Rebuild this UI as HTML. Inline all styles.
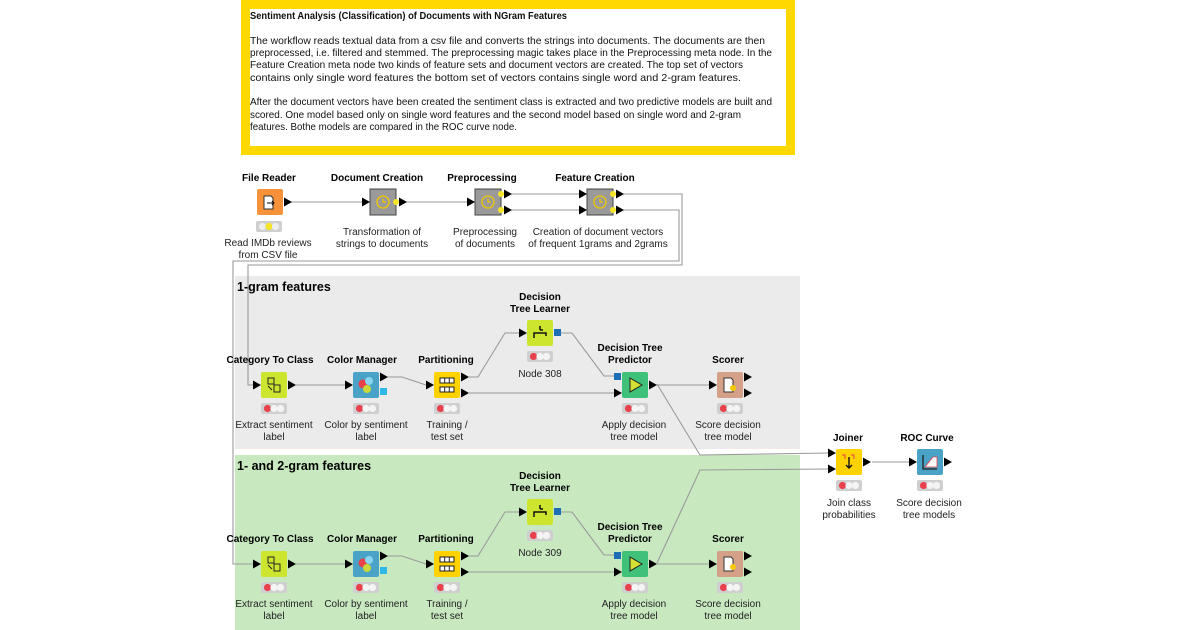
<!DOCTYPE html>
<html><head><meta charset="utf-8"><style>
html,body{margin:0;padding:0;background:#fff;width:1200px;height:630px;overflow:hidden}
svg{display:block;font-family:"Liberation Sans",Arial,sans-serif}
.b{font-weight:bold;font-size:10px;text-anchor:middle}
.d{font-size:10px;text-anchor:middle;fill:#222}
.ln{fill:none;stroke:#9a9a9a;stroke-width:1.1}
</style></head><body>
<svg width="1200" height="630" viewBox="0 0 1200 630">
<defs>
<g id="st"><rect x="0" y="0" width="26" height="11" rx="2" fill="#cfcfcf"/><circle cx="6.5" cy="5.5" r="3.6" fill="#e8414c"/><circle cx="13" cy="5.5" r="3.6" fill="#f4f4f4"/><circle cx="19.5" cy="5.5" r="3.6" fill="#f4f4f4"/></g>
<polygon id="ar" points="0,-4.5 8,0 0,4.5"/>
<g id="meta"><rect x="0" y="0" width="26" height="26" fill="#9a9a9a" stroke="#444" stroke-width="1"/><circle cx="13" cy="13" r="6" fill="none" stroke="#f0c800" stroke-width="1.3"/><path d="M13 9.5v3.5h3" stroke="#f0c800" fill="none" stroke-width="1.2"/></g>
</defs>
<!-- annotation -->
<rect x="245.5" y="4.5" width="545" height="146" fill="#fff" stroke="#ffd800" stroke-width="9"/>
<g font-size="10.4px" fill="#111" lengthAdjust="spacingAndGlyphs">
<text x="250" y="19" font-weight="bold" textLength="317" lengthAdjust="spacingAndGlyphs">Sentiment Analysis (Classification) of Documents with NGram Features</text>
<text x="250" y="44" textLength="515" lengthAdjust="spacingAndGlyphs">The workflow reads textual data from a csv file and converts the strings into documents. The documents are then</text>
<text x="250" y="56" textLength="522" lengthAdjust="spacingAndGlyphs">preprocessed, i.e. filtered and stemmed. The preprocessing magic takes place in the Preprocessing meta node. In the</text>
<text x="250" y="68" textLength="493" lengthAdjust="spacingAndGlyphs">Feature Creation meta node two kinds of feature sets and document vectors are created. The top set of vectors</text>
<text x="250" y="81" textLength="491" lengthAdjust="spacingAndGlyphs">contains only single word features the bottom set of vectors contains single word and 2-gram features.</text>
<text x="250" y="105" textLength="522" lengthAdjust="spacingAndGlyphs">After the document vectors have been created the sentiment class is extracted and two predictive models are built and</text>
<text x="250" y="118" textLength="491" lengthAdjust="spacingAndGlyphs">scored. One model based only on single word features and the second model based on single word and 2-gram</text>
<text x="250" y="130" textLength="267" lengthAdjust="spacingAndGlyphs">features. Bothe models are compared in the ROC curve node.</text>
</g>
<!-- areas -->
<rect x="235" y="276" width="565" height="173" fill="#ebebeb"/>
<rect x="235" y="455" width="565" height="175" fill="#c8e9c0"/>
<text x="237" y="291" font-size="12.5px" font-weight="bold">1-gram features</text>
<text x="237" y="470" font-size="12.5px" font-weight="bold">1- and 2-gram features</text>

<!-- connections -->
<polyline class="ln" points="285,202 362,202"/>
<polyline class="ln" points="404,202 467,202"/>
<polyline class="ln" points="509,194 579,194"/>
<polyline class="ln" points="509,210 579,210"/>
<polyline class="ln" points="620,194 682,194 682,265 248,265 248,385 253,385"/>
<polyline class="ln" points="620,210 679,210 679,261 233,261 233,564 253,564"/>
<g id="rowc">
<polyline class="ln" points="296,385 345,385"/>
<polyline class="ln" points="388,377 402,377 426,385"/>
<polyline class="ln" points="469,377 478,377 505,333 519,333"/>
<polyline class="ln" points="469,393 614,393"/>
<polyline class="ln" points="560,333 572,333 604,376 614,376"/>
<polyline class="ln" points="657,385 709,385"/>
</g>
<use href="#rowc" transform="translate(0,179)"/>
<polyline class="ln" points="657,384 700,455 828,453"/>
<polyline class="ln" points="657,563 700,470 828,469"/>
<polyline class="ln" points="872,462 909,462"/>

<!-- File Reader -->
<text class="b" x="269" y="181">File Reader</text>
<rect x="257" y="189" width="26" height="26" rx="2" fill="#f7923a"/>
<path d="M264 196h7l2 2v11h-9z" fill="#fff" stroke="#333" stroke-width="1"/><path d="M267 203h7m-2-2 2 2-2 2" stroke="#000" fill="none"/>
<use href="#ar" x="284" y="202"/>
<rect x="256" y="221" width="26" height="11" rx="2" fill="#cfcfcf"/><circle cx="262.5" cy="226.5" r="3.6" fill="#eee"/><circle cx="269" cy="226.5" r="3.6" fill="#f5e52a"/><circle cx="275.5" cy="226.5" r="3.6" fill="#eee"/>
<text class="d" x="268" y="246">Read IMDb reviews</text><text class="d" x="268" y="258">from CSV file</text>

<!-- meta nodes -->
<use href="#meta" x="370" y="189"/>
<use href="#ar" x="362" y="202"/><circle cx="396" cy="202" r="3" fill="#f5e52a"/><use href="#ar" x="399" y="202"/>
<text class="b" x="377" y="181">Document Creation</text>
<text class="d" x="382" y="235">Transformation of</text><text class="d" x="382" y="247">strings to documents</text>

<use href="#meta" x="475" y="189"/>
<use href="#ar" x="467" y="202"/>
<circle cx="501" cy="194" r="3" fill="#f5e52a"/><use href="#ar" x="504" y="194"/>
<circle cx="501" cy="210" r="3" fill="#f5e52a"/><use href="#ar" x="504" y="210"/>
<text class="b" x="482" y="181">Preprocessing</text>
<text class="d" x="485" y="235">Preprocessing</text><text class="d" x="485" y="247">of documents</text>

<use href="#meta" x="587" y="189"/>
<use href="#ar" x="579" y="194"/><use href="#ar" x="579" y="210"/>
<circle cx="613" cy="194" r="3" fill="#f5e52a"/><use href="#ar" x="616" y="194"/>
<circle cx="613" cy="210" r="3" fill="#f5e52a"/><use href="#ar" x="616" y="210"/>
<text class="b" x="595" y="181">Feature Creation</text>
<text class="d" x="598" y="235">Creation of document vectors</text><text class="d" x="598" y="247">of frequent 1grams and 2grams</text>

<!-- row nodes -->
<g id="row">
<text class="b" x="270" y="363">Category To Class</text>
<use href="#ar" x="253" y="385"/>
<rect x="261" y="372" width="26" height="26" rx="2" fill="#cde52e"/>
<path d="M268 378h6v6h-6zM274 385h6v7h-6zM268 386l4 4" stroke="#222" fill="none" stroke-width="1"/>
<use href="#ar" x="288" y="385"/>
<use href="#st" x="261" y="403"/>
<text class="d" x="274" y="428">Extract sentiment</text><text class="d" x="274" y="440">label</text>

<text class="b" x="362" y="363">Color Manager</text>
<use href="#ar" x="345" y="385"/>
<rect x="353" y="372" width="26" height="26" rx="2" fill="#4aa3c6"/>
<circle cx="363" cy="384" r="4.5" fill="#e8414c"/><circle cx="369" cy="381" r="4" fill="#8ad6f0"/><circle cx="367" cy="389" r="4" fill="#c9d93a"/>
<use href="#ar" x="380" y="377"/>
<rect x="380" y="388" width="7" height="7" fill="#2db8e8"/>
<use href="#st" x="353" y="403"/>
<text class="d" x="366" y="428">Color by sentiment</text><text class="d" x="366" y="440">label</text>

<text class="b" x="446" y="363">Partitioning</text>
<use href="#ar" x="426" y="385"/>
<rect x="434" y="372" width="26" height="26" rx="2" fill="#ffd200"/>
<rect x="440" y="378" width="14" height="5" fill="#fff" stroke="#222"/><rect x="440" y="387" width="14" height="5" fill="#fff" stroke="#222"/>
<path d="M444.7 378v5M449.3 378v5M444.7 387v5M449.3 387v5" stroke="#222"/>
<use href="#ar" x="461" y="377"/><use href="#ar" x="461" y="393"/>
<use href="#st" x="434" y="403"/>
<text class="d" x="447" y="428">Training /</text><text class="d" x="447" y="440">test set</text>

<text class="b" x="540" y="300">Decision</text><text class="b" x="540" y="312">Tree Learner</text>
<use href="#ar" x="519" y="333"/>
<rect x="527" y="320" width="26" height="26" rx="2" fill="#cde52e"/>
<path d="M540 326v4M534 338v-5h12v3M540 330h3" stroke="#111" fill="none" stroke-width="1.5"/>
<rect x="554" y="329" width="7" height="7" fill="#1d6fb5"/>
<use href="#st" x="527" y="351"/>

<text class="b" x="630" y="351">Decision Tree</text><text class="b" x="630" y="363">Predictor</text>
<rect x="614" y="373" width="7" height="7" fill="#1d6fb5"/>
<use href="#ar" x="614" y="393"/>
<rect x="622" y="372" width="26" height="26" rx="2" fill="#3fc17a"/>
<polygon points="630,378 642,385 630,392" fill="#d4e034" stroke="#222"/>
<use href="#ar" x="649" y="385"/>
<use href="#st" x="622" y="403"/>
<text class="d" x="634" y="428">Apply decision</text><text class="d" x="634" y="440">tree model</text>

<text class="b" x="728" y="363">Scorer</text>
<use href="#ar" x="709" y="385"/>
<rect x="717" y="372" width="26" height="26" rx="2" fill="#d4a088"/>
<path d="M724 378h7l2 2v12h-9z" fill="#fff" stroke="#333"/><circle cx="733" cy="388" r="3" fill="#f5c800"/>
<use href="#ar" x="744" y="377"/><use href="#ar" x="744" y="393"/>
<use href="#st" x="717" y="403"/>
<text class="d" x="728" y="428">Score decision</text><text class="d" x="728" y="440">tree model</text>
</g>
<text class="d" x="540" y="377">Node 308</text>
<use href="#row" transform="translate(0,179)"/>
<text class="d" x="540" y="556">Node 309</text>

<!-- Joiner -->
<text class="b" x="848" y="441">Joiner</text>
<use href="#ar" x="828" y="453"/><use href="#ar" x="828" y="469"/>
<rect x="836" y="449" width="26" height="26" rx="2" fill="#ffd200"/>
<path d="M842 455h3v4M851 455h3v4" stroke="#e8414c" fill="none"/><path d="M849 457v11m-3-3 3 3 3-3" stroke="#111" fill="none" stroke-width="1.4"/>
<use href="#ar" x="863" y="462"/>
<use href="#st" x="836" y="480"/>
<text class="d" x="849" y="506">Join class</text><text class="d" x="849" y="518">probabilities</text>

<!-- ROC -->
<text class="b" x="927" y="441">ROC Curve</text>
<use href="#ar" x="909" y="462"/>
<rect x="917" y="449" width="26" height="26" rx="2" fill="#4aa3c6"/>
<path d="M923 455v14h14" stroke="#222" fill="none" stroke-width="1.3"/><path d="M925 467 L933 457 L937 457 L937 467z" fill="#fff" stroke="#e8414c" stroke-width="0.8"/>
<use href="#ar" x="944" y="462"/>
<use href="#st" x="917" y="480"/>
<text class="d" x="929" y="506">Score decision</text><text class="d" x="929" y="518">tree models</text>
</svg>
</body></html>
